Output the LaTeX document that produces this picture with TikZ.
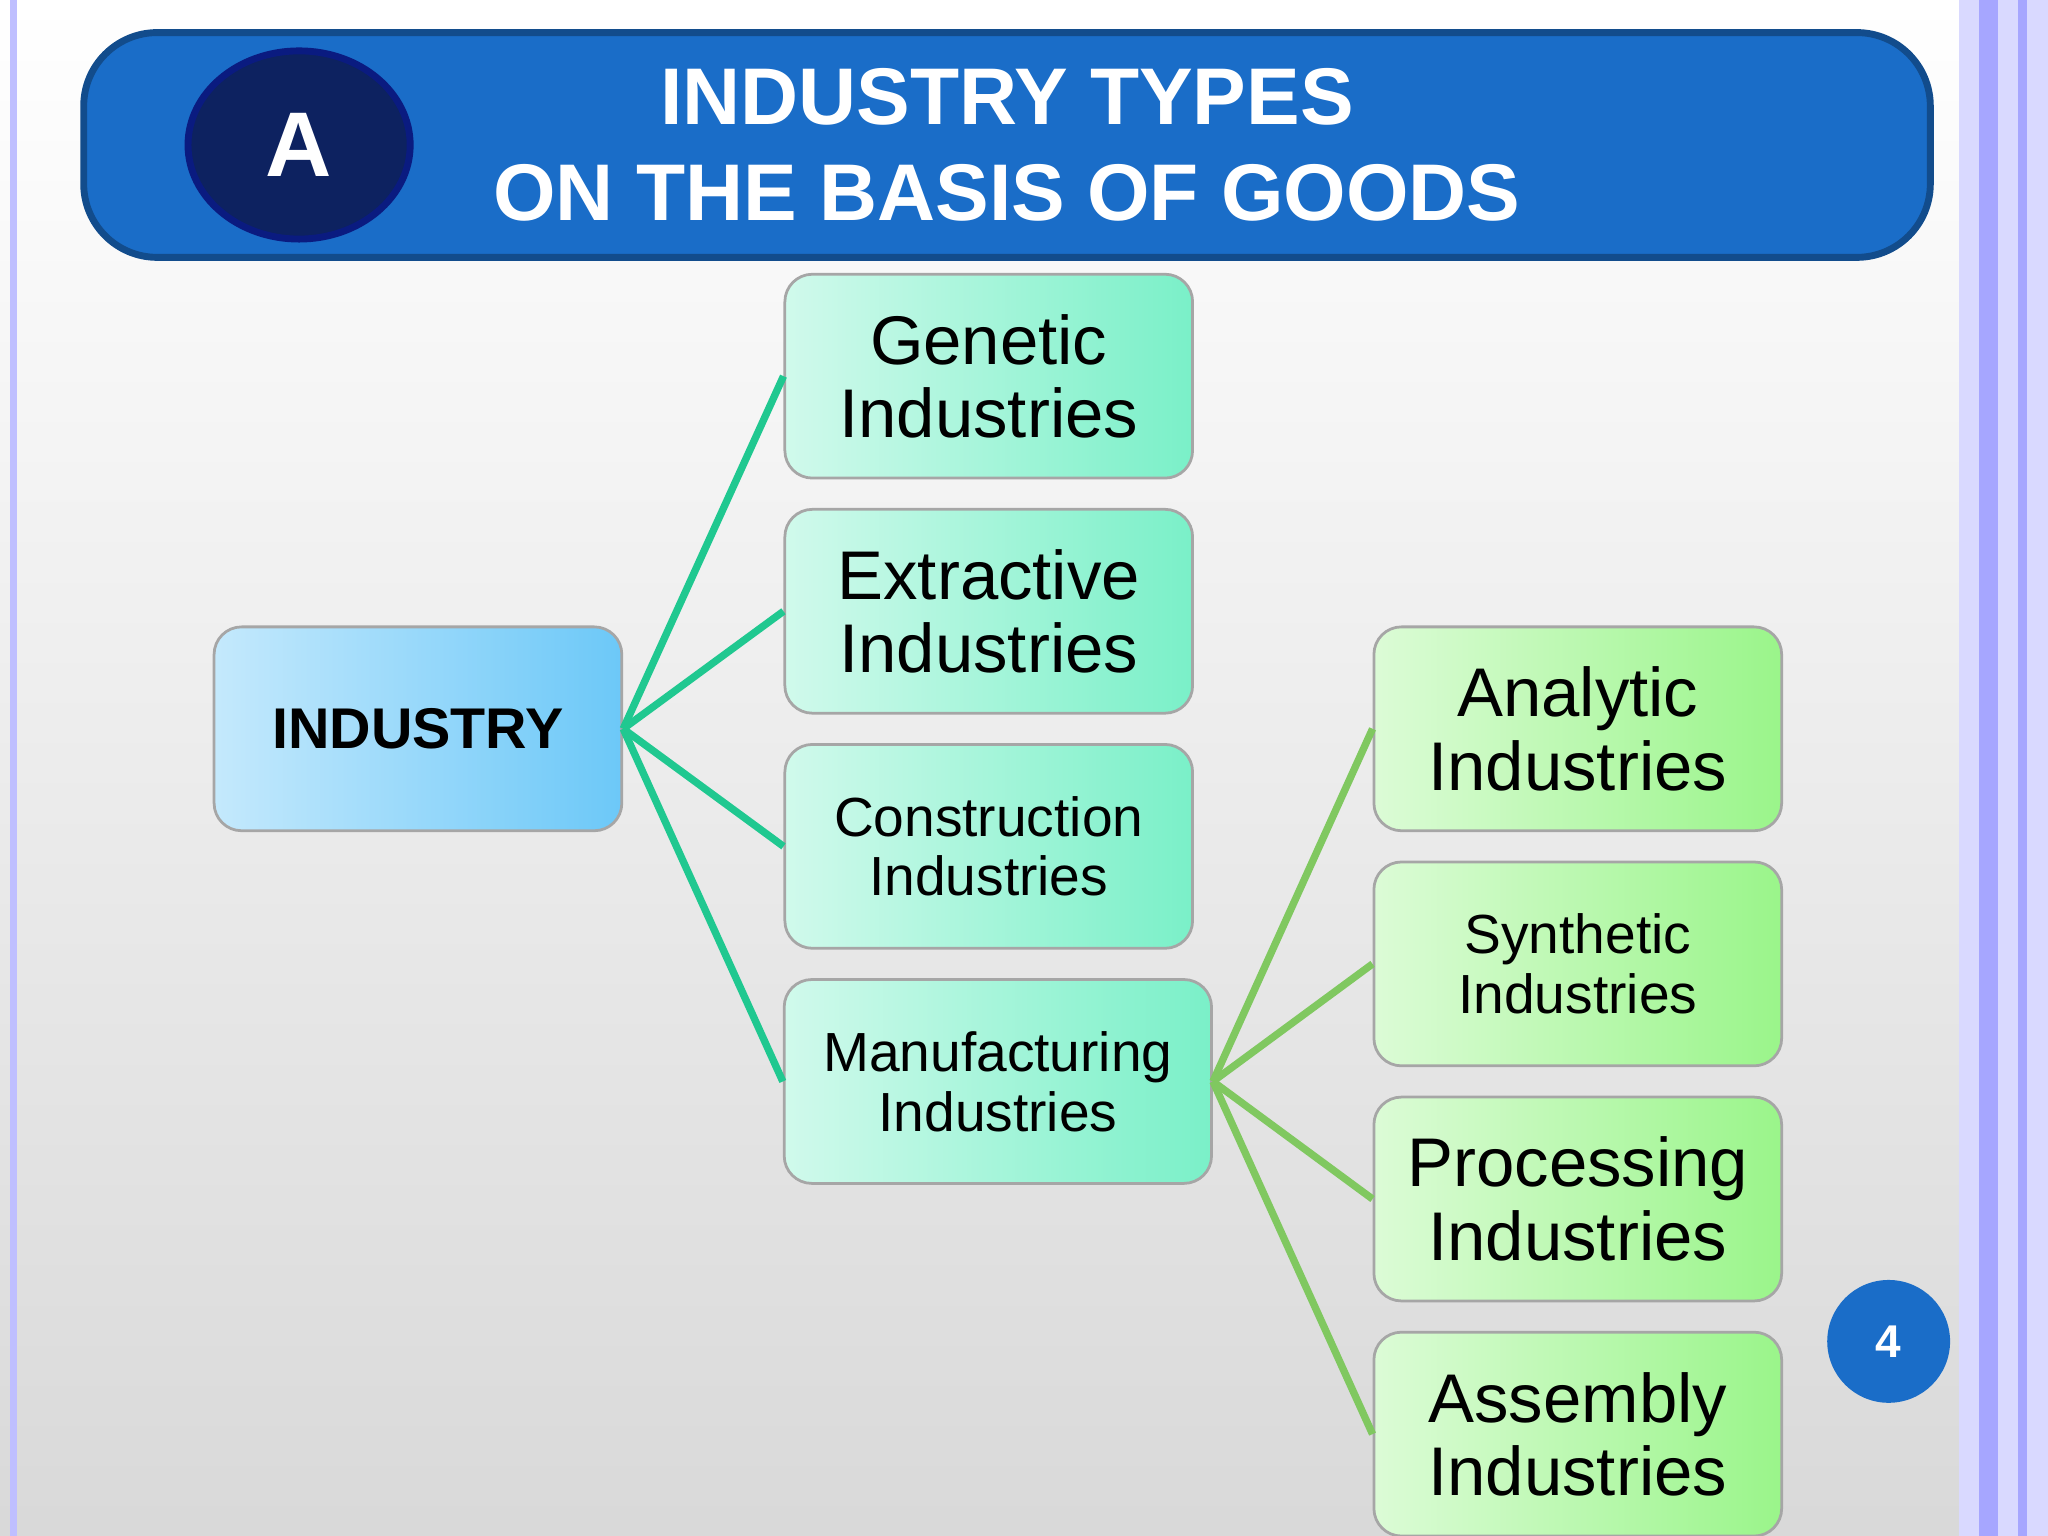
\documentclass[tikz,border=0pt]{standalone}
\usepackage{fontspec}
\setmainfont{Liberation Sans}
\usetikzlibrary{positioning,shapes.geometric}
\definecolor{banner}{HTML}{1A6DC8}
\definecolor{navy}{HTML}{0D2260}
\definecolor{mint}{HTML}{7AF0C8}
\definecolor{lime}{HTML}{9AF58A}
\definecolor{sky}{HTML}{6CC8F8}
\definecolor{teal}{HTML}{20C890}
\definecolor{leaf}{HTML}{80C860}
\begin{document}
\begin{tikzpicture}[x=0.01cm,y=-0.01cm]
% Define styles for nodes and edges
\tikzstyle{box} = [rectangle, rounded corners=6pt, draw=gray!70, line width=0.6pt, minimum width=3.12cm, minimum height=1.56cm, align=center, text centered, inner sep=1pt]
\tikzstyle{kind} = [box, left color=mint!35, right color=mint]
\tikzstyle{sub} = [box, left color=lime!35, right color=lime]
\tikzstyle{link} = [line width=1.6pt, color=teal]
\tikzstyle{sublink} = [line width=1.6pt, color=leaf]

% Background and frame
\useasboundingbox (0,0) rectangle (1568,1176);
\shade[top color=white, bottom color=gray!30] (0,0) rectangle (1568,1176);
\fill[blue!15] (1500,0) rectangle (1568,1176);
\fill[blue!35] (1515,0) rectangle (1530,1176);
\fill[blue!35] (1545,0) rectangle (1552,1176);
\fill[blue!25] (8,0) rectangle (13,1176);

% Title banner
\node[rectangle, rounded corners=16pt, fill=banner, draw=banner!70!black, line width=1.5pt,
  minimum width=14.13cm, minimum height=1.72cm] (banner) at (771,111) {};
\node[ellipse, fill=navy, draw=navy!80!blue, line width=1.5pt, minimum width=1.7cm, minimum height=1.44cm,
  text=white, font=\bfseries\fontsize{20}{20}\selectfont] (letter) at (229,111) {A};
\node[text=white, font=\bfseries\fontsize{17.5}{21}\selectfont, align=center] (title) at (771,111)
  {INDUSTRY TYPES\\ON THE BASIS OF GOODS};

% Nodes
\node[box, left color=sky!40, right color=sky, font=\bfseries\fontsize{12.5}{14}\selectfont] (industry) at (320,558) {INDUSTRY};
\node[kind, font=\fontsize{15}{16}\selectfont] (genetic) at (757,288) {Genetic\\Industries};
\node[kind, font=\fontsize{15}{16}\selectfont] (extractive) at (757,468) {Extractive\\Industries};
\node[kind, font=\fontsize{12}{13}\selectfont] (construction) at (757,648) {Construction\\Industries};
\node[kind, minimum width=3.27cm, font=\fontsize{12}{13}\selectfont] (manufacturing) at (764,828) {Manufacturing\\Industries};
\node[sub, font=\fontsize{15}{16}\selectfont] (analytic) at (1208,558) {Analytic\\Industries};
\node[sub, font=\fontsize{12}{13}\selectfont] (synthetic) at (1208,738) {Synthetic\\Industries};
\node[sub, font=\fontsize{15}{16}\selectfont] (processing) at (1208,918) {Processing\\Industries};
\node[sub, font=\fontsize{15}{16}\selectfont] (assembly) at (1208,1098) {Assembly\\Industries};

% Page number
\node[circle, fill=banner, minimum size=0.94cm, text=white, font=\bfseries\fontsize{10}{10}\selectfont] (page) at (1446,1027) {4};

% Edges
\foreach \n in {genetic, extractive, construction, manufacturing}
  \draw[link] (industry.east) -- (\n.west);
\foreach \n in {analytic, synthetic, processing, assembly}
  \draw[sublink] (manufacturing.east) -- (\n.west);
\end{tikzpicture}
\end{document}
